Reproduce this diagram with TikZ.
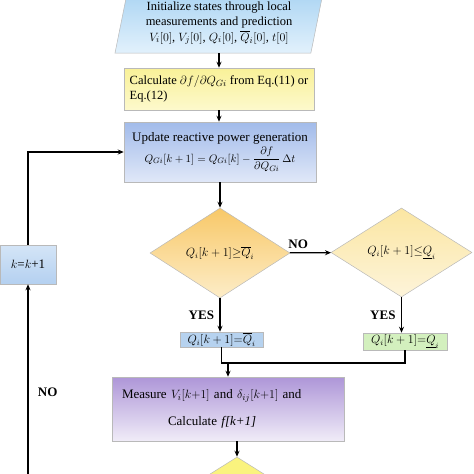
\documentclass[tikz,border=0pt]{standalone}
\usepackage{amsmath,amssymb}
\usepackage{fontspec}
\setmainfont{Liberation Serif}
\usepackage{tikz}
\usetikzlibrary{shapes.geometric,arrows.meta}
\definecolor{initT}{HTML}{ACD5F3}
\definecolor{initB}{HTML}{E2F1FC}
\definecolor{calcT}{HTML}{F9F198}
\definecolor{calcB}{HTML}{FDF9CC}
\definecolor{updT}{HTML}{A2BBEA}
\definecolor{updB}{HTML}{E0E8F8}
\definecolor{decT}{HTML}{F8C868}
\definecolor{decB}{HTML}{FDEDC8}
\definecolor{decbT}{HTML}{FBE6A2}
\definecolor{decbB}{HTML}{FDF4DA}
\definecolor{upper}{HTML}{B6D2EF}
\definecolor{lower}{HTML}{D3F0BE}
\definecolor{measT}{HTML}{AE96D8}
\definecolor{measB}{HTML}{F0ECF8}
\definecolor{endc}{HTML}{FAF37E}
\definecolor{incT}{HTML}{D4E5F7}
\definecolor{incB}{HTML}{B4D0F0}
\tikzset{
	box/.style={draw=gray!55, line width=0.5pt, inner sep=3pt, font=\fontsize{13}{15}\selectfont},
	decision/.style={diamond, draw=gray!55, line width=0.5pt, inner sep=0pt, font=\fontsize{12}{14}\selectfont},
	arr/.style={-{Stealth[length=6pt,width=5pt]}, line width=1.3pt},
	ln/.style={line width=1.3pt},
	lbl/.style={font=\bfseries\fontsize{13}{15}\selectfont}
}

\begin{document}
\begin{tikzpicture}[x=1pt,y=-1pt]
			\useasboundingbox (0,0) rectangle (474,474);
			% process blocks
			\node[box, trapezium, trapezium left angle=75, trapezium right angle=105, trapezium stretches body, minimum width=208, minimum height=60, inner sep=1pt, font=\fontsize{12.5}{15.5}\selectfont, top color=initT, bottom color=initB, align=center] (init) at (219,23)
				{Initialize states through local\\ measurements and prediction\\ $V_i[0]$, $V_j[0]$, $Q_i[0]$, $\overline{Q}_i[0]$, $t[0]$};
			\node[box, minimum width=190, minimum height=42, inner xsep=2pt, align=left, font=\fontsize{12.5}{15}\selectfont, top color=calcT, bottom color=calcB] (calc) at (219,89)
				{Calculate $\partial f/\partial Q_{Gi}$ from Eq.(11) or\\ Eq.(12)};
			\node[box, minimum width=192, minimum height=60, align=center, top color=updT, bottom color=updB] (update) at (220,152)
				{Update reactive power generation\\[2pt] {\fontsize{11}{12}\selectfont $Q_{Gi}[k+1]=Q_{Gi}[k]-\dfrac{\partial f}{\partial Q_{Gi}}\,\Delta t$}};
			\node[decision, minimum width=140, minimum height=90, top color=decT, bottom color=decB] (upchk) at (220,253)
				{$Q_i[k+1]{\geq}\overline{Q}_i$};
			\node[decision, minimum width=141, minimum height=89, top color=decbT, bottom color=decbB] (lowchk) at (401.5,252.5)
				{$Q_i[k+1]{\leq}\underline{Q}_i$};
			\node[box, font=\fontsize{12}{13}\selectfont, inner sep=0pt, minimum width=83, minimum height=15, fill=upper] (setup) at (221.5,339.5)
				{$Q_i[k+1]{=}\overline{Q}_i$};
			\node[box, font=\fontsize{12}{13}\selectfont, inner sep=0pt, minimum width=84, minimum height=17, fill=lower] (setlow) at (405,341.5)
				{$Q_i[k+1]{=}\underline{Q}_i$};
			\node[box, minimum width=232, minimum height=64, inner xsep=10pt, text width=212, align=left, top color=measT, bottom color=measB] (measure) at (228,409)
				{Measure $V_i[k{+}1]$ and $\delta_{ij}[k{+}1]$ and\\[12pt] \hspace*{46pt}Calculate \textit{f[k+1]}};
			\node[decision, minimum width=140, minimum height=88, fill=endc] (stop) at (237,501) {};
			\node[box, minimum width=56, minimum height=39, top color=incT, bottom color=incB] (incr) at (28,264.5)
				{$k$=$k$+1};
			\coordinate (join) at (228,363);
			\coordinate (loop) at (28,480);
			% connectors
			\draw[arr] (calc.north |- init.south) -- (calc.north);
			\draw[arr] (calc.south) -- (calc.south |- update.north);
			\path[arr]
			(update) edge (upchk)
			(upchk) edge node[lbl, above, pos=0.2]{NO} (lowchk)
			(upchk) edge node[lbl, left, xshift=-2pt]{YES} (setup.north -| upchk)
			(lowchk) edge node[lbl, left, xshift=-2pt]{YES} (lowchk |- setlow.north);
			\draw[ln] (setup.south) |- (join) -| (setlow.south);
			\draw[arr] (join) -- (measure.north);
			\draw[arr] (measure.south -| stop) -- (stop.north);
			\draw[arr] (loop) -- node[lbl, right, xshift=6pt, pos=0.45]{NO} (incr.south);
			\draw[arr] (incr.north) |- (update.west);
		\end{tikzpicture}
\end{document}
